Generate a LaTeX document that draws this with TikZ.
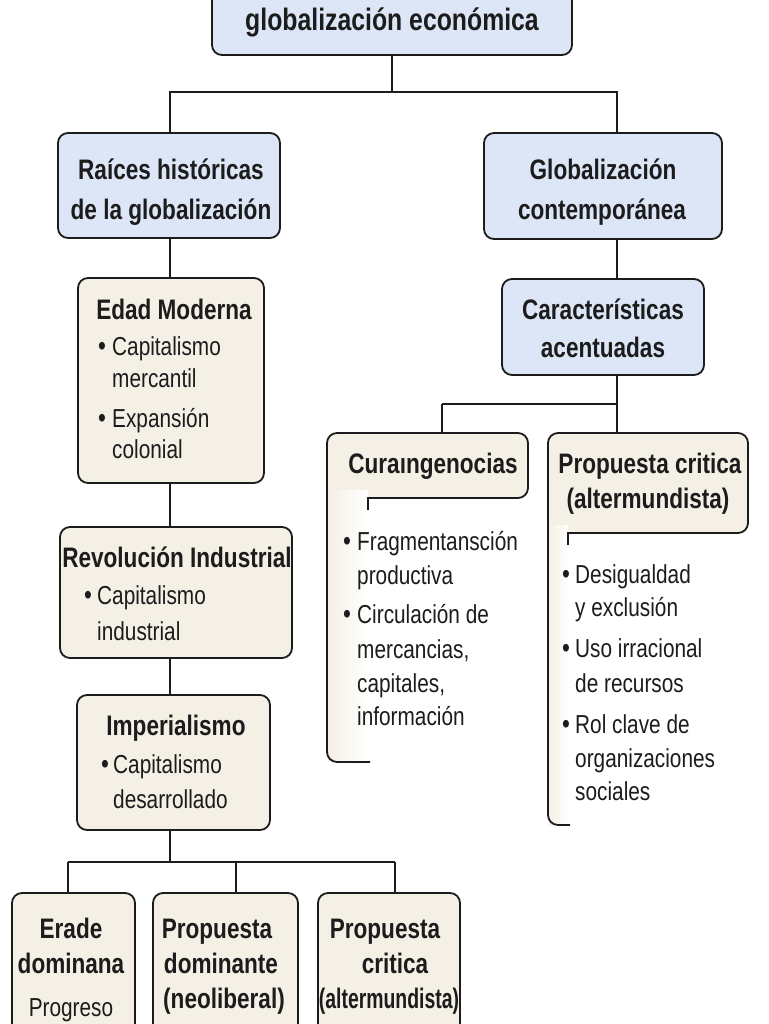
\documentclass[tikz,border=0pt]{standalone}
\usepackage{fontspec}
\setmainfont{Liberation Sans}[FakeStretch=0.80]
\usepackage{graphicx}
\definecolor{ink}{HTML}{1C1C1C}
\definecolor{bluefill}{HTML}{DCE6F6}
\definecolor{creamfill}{HTML}{F4F0E6}
\tikzset{
  boxline/.style={draw=ink, line width=1.8pt},
  conn/.style={draw=ink, line width=1.6pt},
  bluebox/.style={boxline, fill=bluefill, rounded corners=10pt, inner sep=0pt, outer sep=0pt},
  creambox/.style={boxline, fill=creamfill, rounded corners=10pt, inner sep=0pt, outer sep=0pt},
  ttl/.style={font=\fontsize{31}{34}\selectfont\bfseries, text=ink, anchor=base, inner sep=0pt},
  hd/.style={font=\fontsize{28.2}{32}\selectfont\bfseries, text=ink, anchor=base, inner sep=0pt},
  tx/.style={font=\fontsize{26}{30}\selectfont, text=ink, anchor=base west, inner sep=0pt},
  txc/.style={font=\fontsize{26}{30}\selectfont, text=ink, anchor=base, inner sep=0pt},
  bul/.style={font=\fontsize{28}{30}\selectfont, text=ink, anchor=base, inner sep=0pt},
}
\begin{document}
\begin{tikzpicture}[x=1pt, y=-1pt]
\useasboundingbox (0,0) rectangle (768,1024);
\clip (0,0) rectangle (768,1024);
\fill[white] (0,0) rectangle (768,1024);

% ---------- boxes ----------
\node[bluebox, minimum width=360pt, minimum height=75pt] (top) at (392,17.5) {};
\node[bluebox, minimum width=222pt, minimum height=105pt] (raices) at (169,185.5) {};
\node[bluebox, minimum width=238pt, minimum height=106pt] (glob) at (603,186) {};
\node[creambox, minimum width=186pt, minimum height=205pt] (edad) at (171,380.5) {};
\node[creambox, minimum width=232pt, minimum height=131pt] (revol) at (176,592.5) {};
\node[creambox, minimum width=193pt, minimum height=135pt] (imper) at (173.5,762.5) {};
\node[bluebox, minimum width=202pt, minimum height=96pt] (caract) at (603,327) {};
\node[creambox, minimum width=123pt, minimum height=167pt] (bx1) at (73.5,976.5) {};
\node[creambox, minimum width=145pt, minimum height=167pt] (bx2) at (225.5,976.5) {};
\node[creambox, minimum width=142pt, minimum height=167pt] (bx3) at (389,976.5) {};

% ---------- tab shapes ----------
% Curaingenocias
\fill[creamfill, rounded corners=10pt] (327,433) rectangle (528,498);
\shade[left color=creamfill, right color=white] (328,490) rectangle (368,761);
\draw[boxline, rounded corners=10pt] (370,762) -- (327,762) -- (327,433) -- (528,433) -- (528,498) -- (368,498);
\draw[boxline] (368,497) -- (368,510);
% Propuesta critica (right)
\fill[creamfill, rounded corners=10pt] (548,433) rectangle (748,533);
\shade[left color=creamfill, right color=white] (549,525) rectangle (568,824);
\draw[boxline, rounded corners=10pt] (570,825) -- (548,825) -- (548,433) -- (748,433) -- (748,533) -- (568,533);
\draw[boxline] (568,532) -- (568,545);
\coordinate (curaTop) at (442,433);
\coordinate (propTop) at (617,433);

% ---------- connectors ----------
\coordinate (hL) at (170,92);
\coordinate (hR) at (617,92);
\coordinate (hM) at (392,92);
\draw[conn] (top.south -| hM) -- (hM);
\draw[conn] (raices.north -| hL) -- (hL) -- (hR) -- (glob.north -| hR);
\draw[conn] (raices.south -| hL) -- (edad.north -| hL);
\draw[conn] (edad.south -| hL) -- (revol.north -| hL);
\draw[conn] (revol.south -| hL) -- (imper.north -| hL);
\coordinate (b0) at (170,862);
\coordinate (b1) at (68,862);
\coordinate (b2) at (236,862);
\coordinate (b3) at (395,862);
\draw[conn] (imper.south -| b0) -- (b0);
\draw[conn] (b1) -- (b3);
\draw[conn] (b1) -- (bx1.north -| b1);
\draw[conn] (b2) -- (bx2.north -| b2);
\draw[conn] (b3) -- (bx3.north -| b3);
\draw[conn] (glob.south -| hR) -- (caract.north -| hR);
\coordinate (c1) at (617,404);
\coordinate (c2) at (442,404);
\draw[conn] (caract.south -| c1) -- (propTop);
\draw[conn] (c2) -- (c1);
\draw[conn] (c2) -- (curaTop);

% ---------- texts ----------
\node[ttl] (t0) at (392,31) {globalización económica};
\node[hd] (r1) at (171,180) {Raíces históricas};
\node[hd] (r2) at (171,220) {de la globalización};
\node[hd] (g1) at (603,180) {Globalización};
\node[hd] (g2) at (602,220) {contemporánea};

\node[hd] (e0) at (174,319) {Edad Moderna};
\node[bul] (eb1) at (102,355) {•};
\node[tx] (e1) at (112,355) {Capitalismo};
\node[tx] (e2) at (112,387) {mercantil};
\node[bul] (eb2) at (102,427) {•};
\node[tx] (e3) at (112,427) {Expansión};
\node[tx] (e4) at (112,458) {colonial};

\node[hd] (v0) at (177,567) {Revolución Industrial};
\node[bul] (vb1) at (88,604) {•};
\node[tx] (v1) at (97,604) {Capitalismo};
\node[tx] (v2) at (97,640) {industrial};

\node[hd] (i0) at (176,735) {Imperialismo};
\node[bul] (ib1) at (105,773) {•};
\node[tx] (i1) at (113,773) {Capitalismo};
\node[tx] (i2) at (113,808) {desarrollado};

\node[hd] (k1) at (603,319) {Características};
\node[hd] (k2) at (603,357) {acentuadas};

\node[hd] (cu0) at (433,473) {Curaıngenocias};
\node[bul] (cb1) at (347,550) {•};
\node[tx] (cu1) at (357,550) {Fragmentansción};
\node[tx] (cu2) at (357,584) {productiva};
\node[bul] (cb2) at (347,623) {•};
\node[tx] (cu3) at (357,623) {Circulación de};
\node[tx] (cu4) at (357,658) {mercancias,};
\node[tx] (cu5) at (357,692) {capitales,};
\node[tx] (cu6) at (357,725) {información};

\node[hd] (p0) at (650,473) {Propuesta critica};
\node[hd] (p00) at (648,508) {(altermundista)};
\node[bul] (pb1) at (566,583) {•};
\node[tx] (p1) at (575,583) {Desigualdad};
\node[tx] (p2) at (575,616) {y exclusión};
\node[bul] (pb2) at (566,657) {•};
\node[tx] (p3) at (575,657) {Uso irracional};
\node[tx] (p4) at (575,692) {de recursos};
\node[bul] (pb3) at (566,733) {•};
\node[tx] (p5) at (575,733) {Rol clave de};
\node[tx] (p6) at (575,767) {organizaciones};
\node[tx] (p7) at (575,800) {sociales};

\node[hd] (x1) at (71,938) {Erade};
\node[hd] (x2) at (71,973) {dominana};
\node[txc] (x3) at (71,1016) {Progreso};
\node[hd] (y1) at (217,938) {Propuesta};
\node[hd] (y2) at (221,973) {dominante};
\node[hd] (y3) at (224,1008) {(neoliberal)};
\node[hd] (z1) at (385,938) {Propuesta};
\node[hd] (z2) at (395,973) {critica};
\node[hd] (z3) at (389,1008) {\scalebox{0.86}[1]{(altermundista)}};
\end{tikzpicture}
\end{document}
